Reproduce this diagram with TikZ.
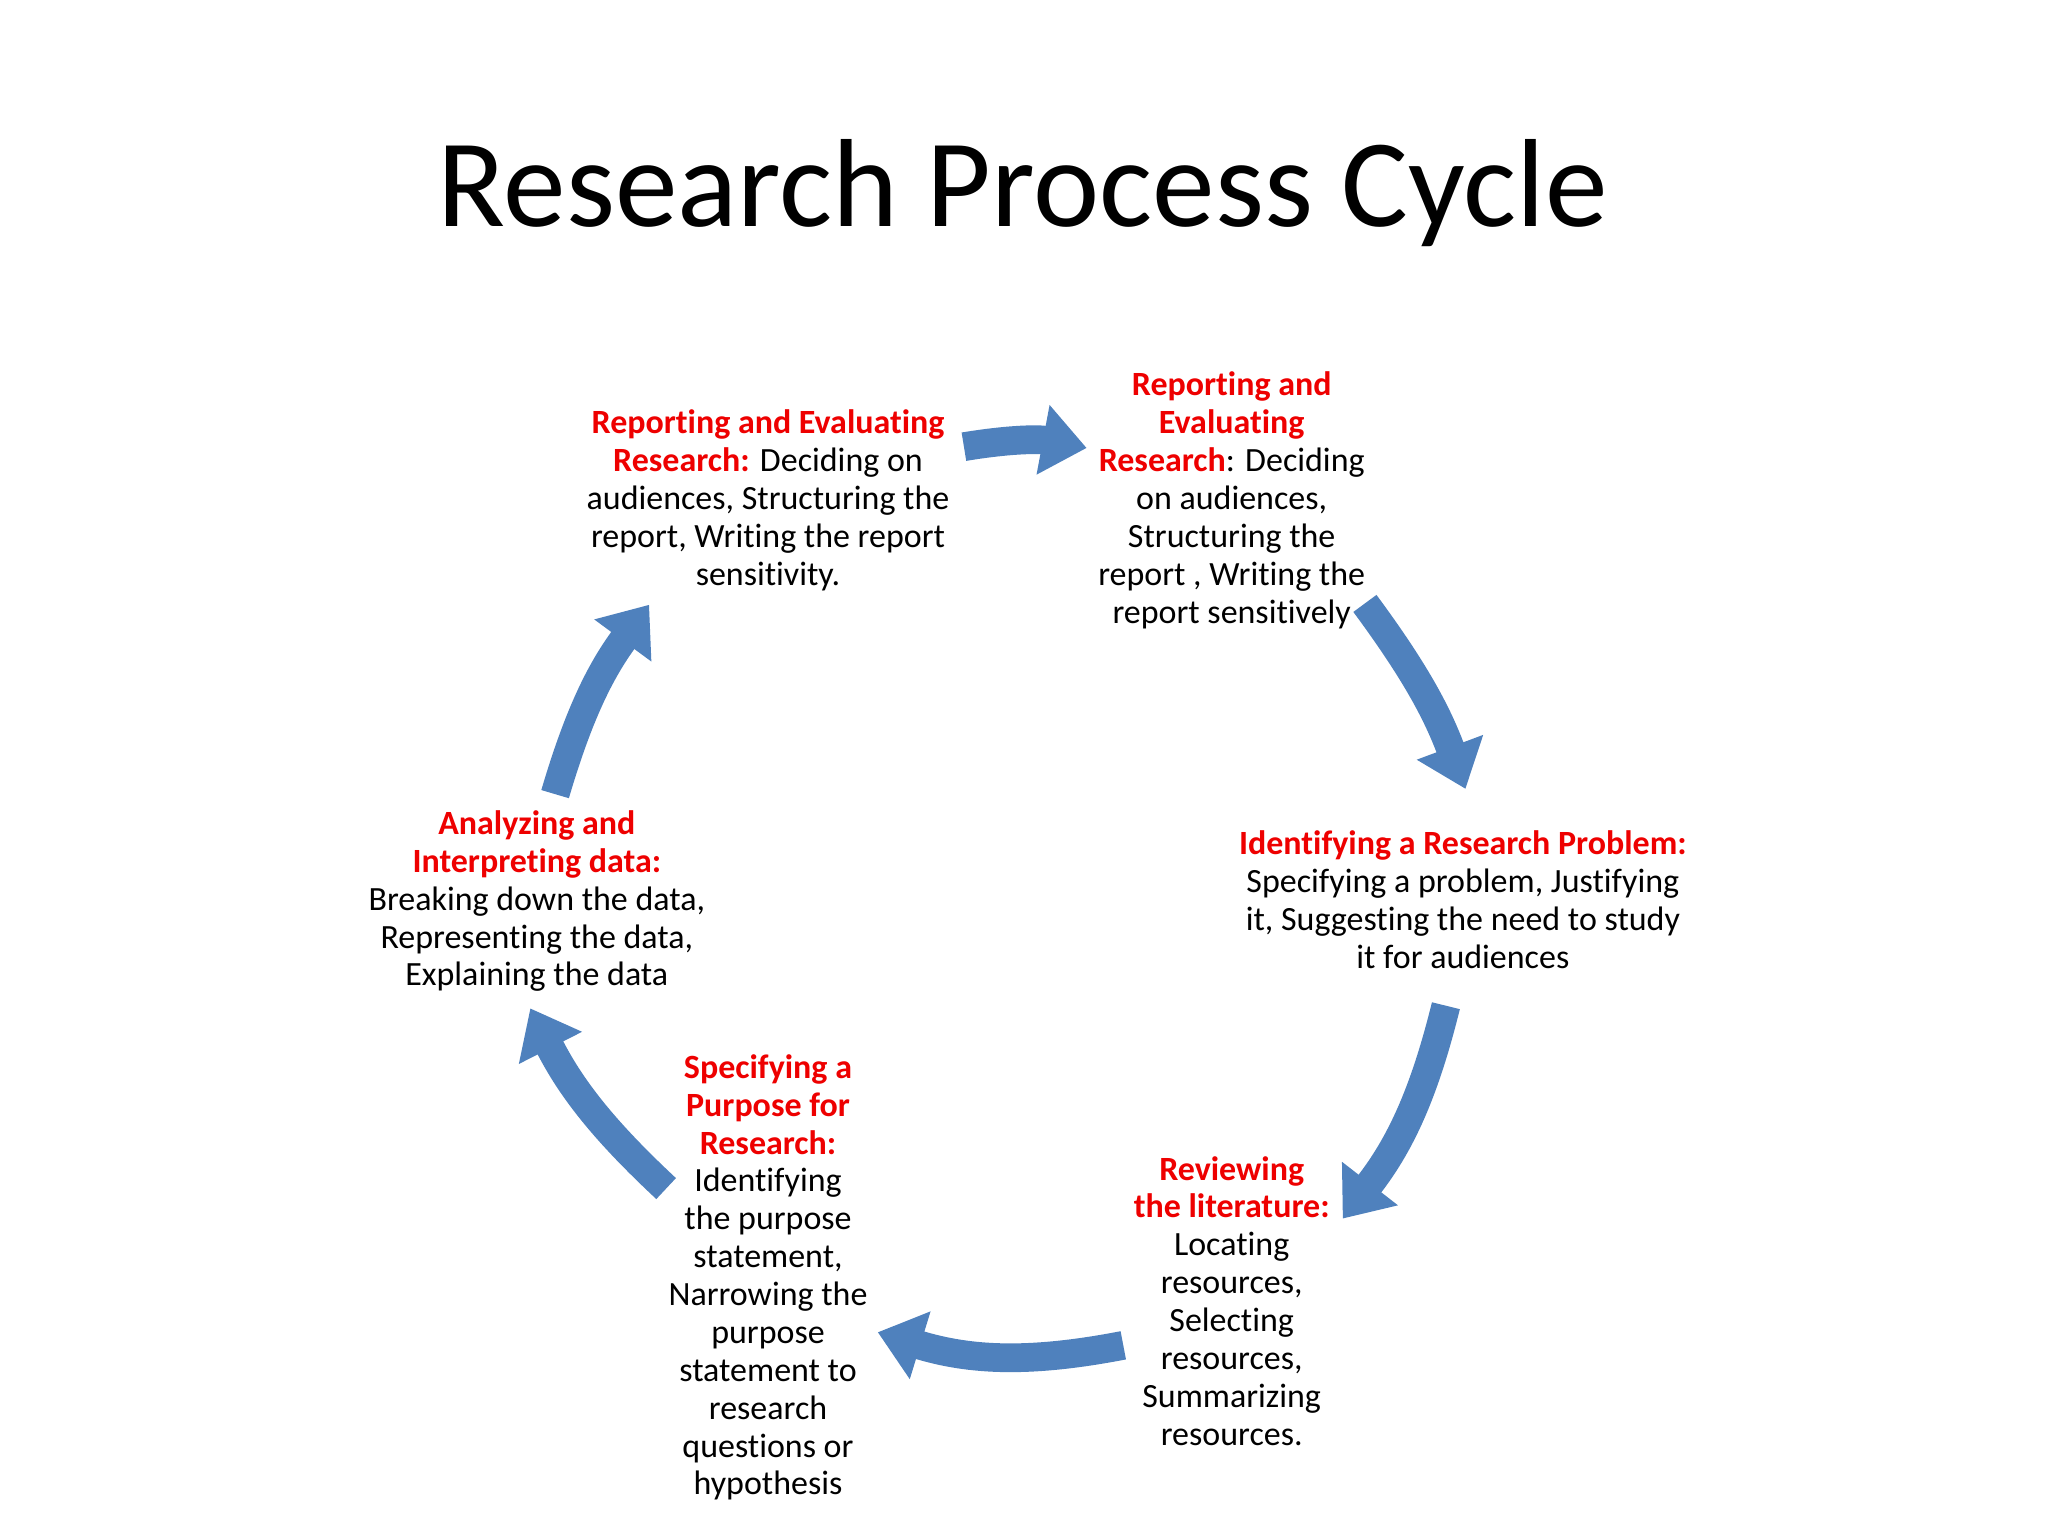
\documentclass[tikz,border=0pt]{standalone}
\usepackage{fontspec}
\setmainfont{Carlito}[Ligatures=NoCommon]
\usetikzlibrary{arrows.meta}
\definecolor{ablue}{HTML}{4F81BD}
\definecolor{ared}{HTML}{EE0000}
\newcommand{\rb}[1]{\textcolor{ared}{\textbf{#1}}}
\begin{document}
\begin{tikzpicture}[x=0.5pt,y=-0.5pt,
  txt/.style={align=center,font=\fontsize{13pt}{14.5pt}\selectfont,inner sep=0pt},
  cyc/.style={draw=ablue,line width=11pt,-{Triangle[width=26pt,length=17pt]}}]
\useasboundingbox (0,0) rectangle (1568,1176);
\fill[white] (0,0) rectangle (1568,1176);
\node[font=\fontsize{48pt}{56pt}\selectfont] (title) at (783,148) {Research Process Cycle};
\node[txt] (tl) at (588,383) {\rb{Reporting and Evaluating}\\\rb{Research:} Deciding on\\audiences, Structuring the\\report, Writing the report\\sensitivity.};
\node[txt] (tr) at (943,383) {\rb{Reporting and}\\\rb{Evaluating}\\\rb{Research}: Deciding\\on audiences,\\Structuring the\\report , Writing the\\report sensitively};
\node[txt] (r) at (1120,689) {\rb{Identifying a Research Problem:}\\Specifying a problem, Justifying\\it, Suggesting the need to study\\it for audiences};
\node[txt] (br) at (943,996) {\rb{Reviewing}\\\rb{the literature:}\\Locating\\resources,\\Selecting\\resources,\\Summarizing\\resources.};
\node[txt] (b) at (588,978) {\rb{Specifying a}\\\rb{Purpose for}\\\rb{Research:}\\Identifying\\the purpose\\statement,\\Narrowing the\\purpose\\statement to\\research\\questions or\\hypothesis};
\node[txt] (l) at (411,690) {\rb{Analyzing and}\\\rb{Interpreting data:}\\Breaking down the data,\\Representing the data,\\Explaining the data};
\coordinate (a1s) at (738,342); \coordinate (a1e) at (832,343);
\coordinate (a2s) at (1045,462); \coordinate (a2e) at (1122,604);
\coordinate (a3s) at (1107,770); \coordinate (a3e) at (1028,933);
\coordinate (a4s) at (860,1030); \coordinate (a4e) at (672,1020);
\coordinate (a5s) at (510,910); \coordinate (a5e) at (406,772);
\coordinate (a6s) at (425,608); \coordinate (a6e) at (497,463);
\draw[cyc] (a1s) to[bend left=10] (a1e);
\draw[cyc] (a2s) to[bend left=8] (a2e);
\draw[cyc] (a3s) to[bend left=12] (a3e);
\draw[cyc] (a4s) to[bend left=14] (a4e);
\draw[cyc] (a5s) to[bend left=10] (a5e);
\draw[cyc] (a6s) to[bend left=10] (a6e);
\end{tikzpicture}
\end{document}
